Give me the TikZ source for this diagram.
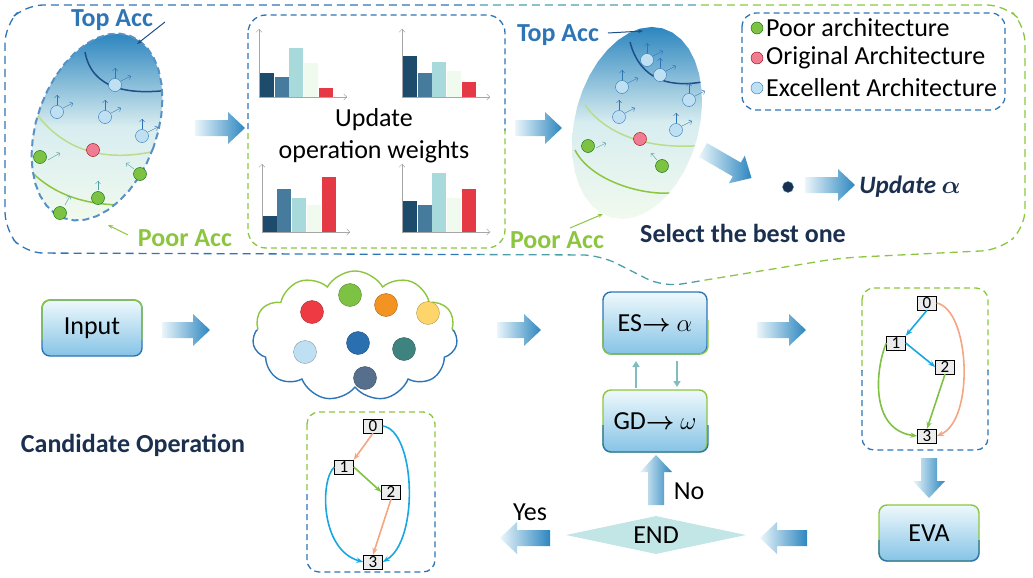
\documentclass[tikz,border=0pt]{standalone}
\usepackage{amsmath}
\usepackage{fontspec}
\setmainfont{Carlito}
\usetikzlibrary{shapes.symbols,shapes.geometric,arrows.meta}
\definecolor{bblue}{HTML}{2E75B6}
\definecolor{dblue}{HTML}{1F4E89}
\definecolor{ggreen}{HTML}{8CC63F}
\definecolor{tteal}{HTML}{4C9FA8}
\definecolor{navy}{HTML}{1B2F4E}
\definecolor{alight}{HTML}{EAF6FB}
\definecolor{adark}{HTML}{2D86BF}
\definecolor{bxtop}{HTML}{EEF9FC}
\definecolor{bxbot}{HTML}{86C3E6}
\definecolor{c1}{HTML}{1D4B6B}
\definecolor{c2}{HTML}{467B9E}
\definecolor{c3}{HTML}{A8DADC}
\definecolor{c4}{HTML}{F1FAEE}
\definecolor{c5}{HTML}{E63946}
\definecolor{lbc}{HTML}{BFE0F2}
\definecolor{pinkc}{HTML}{F07C93}
\definecolor{grc}{HTML}{7DC242}
\definecolor{orc}{HTML}{F4A582}
\definecolor{cyc}{HTML}{1AA7E0}
\definecolor{oa}{HTML}{EE3B43}
\definecolor{ob}{HTML}{7DC242}
\definecolor{oc}{HTML}{F39322}
\definecolor{od}{HTML}{FDD56A}
\definecolor{oe}{HTML}{BFE0F2}
\definecolor{of}{HTML}{2A6FB0}
\definecolor{og}{HTML}{3F8381}
\definecolor{oh}{HTML}{566F8C}
\newcommand\farrow[4]{\begin{scope}[shift={(#1,#2)},rotate=#3]
\shade[left color=alight,right color=adark] (0,-8) -- ({#4-17},-8) -- ({#4-17},-16) -- (#4,0) -- ({#4-17},16) -- ({#4-17},8) -- (0,8) -- cycle;
\end{scope}}
\newcommand\cbar[4]{\fill[#4] (#1,#3) rectangle ({#1+14},#2);}
\newcommand\caxes[2]{\draw[gray!70,-{Straight Barb[length=3pt]}] (#1,#2) -- ({#1+88},#2);\draw[gray!70,-{Straight Barb[length=3pt]}] (#1,#2) -- (#1,{#2-68});}
\newcommand\exc[2]{\node[excn] at (#1,#2) {};\draw[bblue,-{Straight Barb[length=2.5pt]}] (#1,{#2-7}) -- (#1,{#2-17});\draw[bblue,-{Straight Barb[length=2.5pt]}] ({#1+6},{#2-4}) -- ({#1+16},{#2-9});}
% tilted ellipse path: #1,#2 centre, #3 a, #4 b, #5 cos, #6 sin
\newcommand\tellipse[6]{({#1+#3*#5},{#2+#3*#6}) \foreach \t in {10,20,...,360} { -- ({#1+#3*cos(\t)*#5-#4*sin(\t)*#6},{#2+#3*cos(\t)*#6+#4*sin(\t)*#5}) } -- cycle}
\tikzset{
 excn/.style={circle,draw=bblue,fill=lbc,minimum size=13pt,inner sep=0pt},
 poorn/.style={circle,draw=green!40!black,fill=grc,minimum size=13pt,inner sep=0pt},
 orign/.style={circle,draw=red!60!black,fill=pinkc,minimum size=13pt,inner sep=0pt},
 bx/.style={rounded corners=8pt,top color=bxtop,bottom color=bxbot,minimum width=100pt,minimum height=56pt,font=\fontsize{26}{28}\selectfont,line width=1.4pt},
 dn/.style={draw=black,fill=gray!15,inner sep=1pt,minimum width=19pt,minimum height=14pt,font=\fontsize{17}{17}\selectfont},
 ed/.style={line width=1.6pt,-{Stealth[length=7pt]}},
 opc/.style={circle,minimum size=23pt,inner sep=0pt,draw=#1!70!black,fill=#1},
 lbl/.style={font=\fontsize{26}{28}\selectfont\bfseries},
 eshade/.style={top color=adark,bottom color=c4,middle color=c4!50!lbc},
}
\begin{document}
\begin{tikzpicture}[x=1pt,y=-1pt]
\useasboundingbox (0,0) rectangle (1033,578);
% outer dashed border
\def\outer{(5,25) -- (5,230) -- (25,253) -- (600,255) -- (663,287) -- (840,258) -- (1000,250) -- (1025,228) -- (1025,25) -- (1005,5) -- (25,5) -- cycle}
\begin{scope}\clip (0,0) rectangle (480,300);
\draw[bblue,dashed,line width=1.3pt,dash pattern=on 8pt off 5pt,rounded corners=18pt] \outer;\end{scope}
\begin{scope}\clip (480,0) rectangle (700,300);
\draw[tteal,dashed,line width=1.3pt,dash pattern=on 8pt off 5pt,rounded corners=18pt] \outer;\end{scope}
\begin{scope}\clip (700,0) rectangle (1033,300);
\draw[ggreen,dashed,line width=1.3pt,dash pattern=on 8pt off 5pt,rounded corners=18pt] \outer;\end{scope}
% left ellipse (major axis tilted: top to the right)
\shade[eshade] \tellipse{97}{127}{60}{97}{0.94}{0.342};
\begin{scope}
\clip \tellipse{97}{127}{60}{97}{0.94}{0.342};
\draw[dblue,line width=1.5pt] (85,52) .. controls (92,90) and (130,95) .. (170,90);
\draw[ggreen!60,line width=1.5pt] (35,112) .. controls (70,160) and (120,160) .. (160,150);
\draw[ggreen,line width=1.5pt] (25,165) .. controls (55,200) and (95,205) .. (125,205);
\end{scope}
\draw[bblue!80,dashed,line width=2pt,dash pattern=on 7pt off 4pt] \tellipse{97}{127}{60}{97}{0.94}{0.342};
\exc{115}{85}\exc{57}{112}\exc{105}{117}\exc{142}{136}
\node[orign] at (93,150) {};
\node[poorn] at (40,157) {};\draw[tteal,-{Straight Barb[length=2.5pt]}] (48,160) -- (60,153);
\node[poorn] at (140,174) {};\draw[tteal,-{Straight Barb[length=2.5pt]}] (134,169) -- (126,163);
\node[poorn] at (98,198) {};\draw[tteal,-{Straight Barb[length=2.5pt]}] (98,190) -- (98,181);
\node[poorn] at (60,213) {};\draw[tteal,-{Straight Barb[length=2.5pt]}] (65,205) -- (70,196);
\node[lbl,text=bblue] (ta1) at (112,20) {Top Acc};
\draw[dblue,line width=1pt,-{Stealth[length=5pt]}] (165,22) -- (137,44);
\node[lbl,text=ggreen] (pa1) at (185,238) {Poor Acc};
\draw[ggreen,line width=1pt,-{Stealth[length=5pt]}] (128,235) -- (108,225);
% middle box
\begin{scope}\clip (240,0) rectangle (520,130);
\draw[bblue,dashed,line width=1.3pt,dash pattern=on 6pt off 4pt,rounded corners=18pt] (248,15) rectangle (505,248);\end{scope}
\begin{scope}\clip (240,130) rectangle (520,260);
\draw[ggreen,dashed,line width=1.3pt,dash pattern=on 6pt off 4pt,rounded corners=18pt] (248,15) rectangle (505,248);\end{scope}
\cbar{260}{73}{97}{c1}\cbar{275}{77}{97}{c2}\cbar{289}{48}{97}{c3}\cbar{304}{63}{97}{c4}\cbar{319}{88}{97}{c5}\caxes{259}{97}
\cbar{403}{56}{97}{c1}\cbar{418}{73}{97}{c2}\cbar{432}{62}{97}{c3}\cbar{447}{71}{97}{c4}\cbar{462}{82}{97}{c5}\caxes{402}{97}
\cbar{263}{216}{232}{c1}\cbar{277}{189}{232}{c2}\cbar{292}{198}{232}{c3}\cbar{307}{205}{232}{c4}\cbar{322}{177}{232}{c5}\caxes{262}{232}
\cbar{403}{201}{232}{c1}\cbar{418}{205}{232}{c2}\cbar{432}{173}{232}{c3}\cbar{447}{198}{232}{c4}\cbar{462}{189}{232}{c5}\caxes{402}{232}
\node[font=\fontsize{26}{32}\selectfont,align=center] (uow) at (374,136) {Update\\operation weights};
% right ellipse
\shade[eshade] \tellipse{637}{123}{62}{98}{0.966}{0.259};
\begin{scope}
\clip \tellipse{637}{123}{62}{98}{0.966}{0.259};
\draw[dblue,line width=1.5pt] (630,42) .. controls (640,80) and (670,90) .. (712,80);
\draw[ggreen!60,line width=1.5pt] (585,105) .. controls (610,140) and (660,150) .. (705,145);
\draw[ggreen,line width=1.5pt] (575,150) .. controls (590,180) and (640,195) .. (670,193);
\end{scope}
\exc{647}{60}\exc{660}{75}\exc{622}{87}\exc{689}{100}\exc{619}{117}\exc{676}{130}
\node[orign] at (640,139) {};
\node[poorn] at (588,146) {};\draw[tteal,-{Straight Barb[length=2.5pt]}] (596,148) -- (606,143);
\node[poorn] at (662,166) {};\draw[tteal,-{Straight Barb[length=2.5pt]}] (657,160) -- (651,153);
\node[lbl,text=bblue] (ta2) at (558,35) {Top Acc};
\draw[dblue,line width=1pt,-{Stealth[length=5pt]}] (608,33) -- (643,31);
\node[lbl,text=ggreen] (pa2) at (557,240) {Poor Acc};
\draw[ggreen,line width=1pt,-{Stealth[length=5pt]}] (570,228) -- (603,214);
\node[circle,fill=navy,draw=adark,minimum size=11pt,inner sep=0pt] (best) at (788,187) {};
\node[font=\fontsize{25}{28}\selectfont\bfseries\itshape,text=navy] (ua) at (910,187) {Update $\boldsymbol\alpha$};
\node[lbl,text=navy] (sel) at (743,233) {Select the best one};
% legend
\draw[bblue,dashed,line width=1.3pt,dash pattern=on 6pt off 4pt,rounded corners=14pt] (742,13) rectangle (1005,110);
\node[poorn,minimum size=12pt] (l1) at (757,28) {};
\node[orign,minimum size=12pt] (l2) at (757,58) {};
\node[excn,minimum size=12pt] (l3) at (757,88) {};
\begin{scope}[every node/.style={anchor=west,font=\fontsize{26}{28}\selectfont,inner sep=0pt}]
\node at (766,28) {Poor architecture};
\node at (766,58) {Original Architecture};
\node at (766,88) {Excellent Architecture};
\end{scope}
% top arrows
\farrow{195}{128}{0}{50}\farrow{515}{128}{0}{47}\farrow{703}{150}{-30}{56}\farrow{805}{185}{0}{50}
% bottom
\node[bx,draw=bblue] (in) at (92,328) {Input};
\draw[ggreen,line width=1.4pt,rounded corners=8pt] (42,340) -- (42,300) -- (142,300) -- (142,340);
\begin{scope}
\clip (200,260) rectangle (520,330);
\node[cloud,cloud puffs=11,cloud puff arc=120,aspect=1.6,draw=ggreen,line width=1.4pt,minimum width=205pt,minimum height=130pt] at (355,336) {};
\end{scope}
\begin{scope}
\clip (200,330) rectangle (520,420);
\node[cloud,cloud puffs=11,cloud puff arc=120,aspect=1.6,draw=bblue,line width=1.4pt,minimum width=205pt,minimum height=130pt] (cloud) at (355,336) {};
\end{scope}
\node[opc=oa] (o1) at (312,312) {};
\node[opc=ob] (o2) at (350,295) {};
\node[opc=oc] (o3) at (386,305) {};
\node[opc=od] (o4) at (428,313) {};
\node[opc=oe] (o5) at (305,352) {};
\node[opc=of] (o6) at (358,343) {};
\node[opc=og] (o7) at (404,349) {};
\node[opc=oh] (o8) at (365,378) {};
\node[lbl,text=navy] (cand) at (133,445) {Candidate Operation};
\farrow{162}{330}{0}{48}\farrow{497}{330}{0}{44}\farrow{757}{330}{0}{49}
% ES / GD
\node[bx,draw=bblue,minimum width=104pt,minimum height=62pt] (es) at (655,323) {ES$\boldsymbol\rightarrow$ $\alpha$};
\draw[ggreen,line width=1.4pt,rounded corners=8pt] (603,320) -- (603,354) -- (708,354) -- (708,320);
\node[bx,draw=ggreen,minimum width=104pt,minimum height=62pt] (gd) at (655,421) {GD$\boldsymbol\rightarrow$ $\omega$};
\draw[bblue,line width=1.4pt,rounded corners=8pt] (603,425) -- (603,452) -- (708,452) -- (708,425);
\draw[tteal!70,line width=1.8pt,-{Triangle[length=6pt,width=7pt]}] (636,388) -- (636,361);
\draw[tteal!70,line width=1.8pt,-{Triangle[length=6pt,width=7pt]}] (677,361) -- (677,387);
\node[diamond,aspect=4.6,fill=c3!70,inner sep=1pt,minimum width=180pt,minimum height=38pt,font=\fontsize{26}{28}\selectfont] (end) at (656,535) {END};
\farrow{656}{505}{90}{50}\farrow{807}{538}{180}{47}\farrow{550}{538}{180}{50}
\node[font=\fontsize{26}{28}\selectfont] (no) at (689,491) {No};
\node[font=\fontsize{26}{28}\selectfont] (yes) at (530,512) {Yes};
% right DAG
\begin{scope}\clip (850,270) rectangle (1000,370);
\draw[ggreen,dashed,line width=1.3pt,dash pattern=on 6pt off 4pt,rounded corners=12pt] (862,288) rectangle (988,450);\end{scope}
\begin{scope}\clip (850,370) rectangle (1000,460);
\draw[bblue,dashed,line width=1.3pt,dash pattern=on 6pt off 4pt,rounded corners=12pt] (862,288) rectangle (988,450);\end{scope}
\node[dn] (r0) at (927,303) {0};
\node[dn] (r1) at (896,343) {1};
\node[dn] (r2) at (945,367) {2};
\node[dn] (r3) at (927,436) {3};
\draw[ed,cyc] (r0.south) -- (r1.north east);
\draw[ed,cyc] (r1.east) -- (r2.west);
\draw[ed,grc] (r2.south) -- (r3.north);
\draw[ed,grc] (r1.west) .. controls (875,370) and (870,430) .. (r3.west);
\draw[ed,orc] (r0.east) .. controls (970,310) and (975,420) .. (r3.east);
\node[bx,draw=ggreen] (eva) at (929,533) {EVA};
\draw[bblue,line width=1.4pt,rounded corners=8pt] (879,540) -- (879,561) -- (979,561) -- (979,540);
\farrow{929}{458}{-90}{40}
% left DAG
\begin{scope}\clip (300,400) rectangle (445,490);
\draw[ggreen,dashed,line width=1.3pt,dash pattern=on 6pt off 4pt,rounded corners=12pt] (307,412) rectangle (435,572);\end{scope}
\begin{scope}\clip (300,490) rectangle (445,580);
\draw[bblue,dashed,line width=1.3pt,dash pattern=on 6pt off 4pt,rounded corners=12pt] (307,412) rectangle (435,572);\end{scope}
\node[dn] (a0) at (373,426) {0};
\node[dn] (a1) at (344,467) {1};
\node[dn] (a2) at (391,492) {2};
\node[dn] (a3) at (373,562) {3};
\draw[ed,orc] (a0.south) -- (a1.north east);
\draw[ed,grc] (a1.east) -- (a2.west);
\draw[ed,orc] (a2.south) -- (a3.north);
\draw[ed,cyc] (a1.west) .. controls (320,480) and (320,550) .. (a3.west);
\draw[ed,cyc] (a0.east) .. controls (415,430) and (420,540) .. (a3.east);
\end{tikzpicture}
\end{document}
